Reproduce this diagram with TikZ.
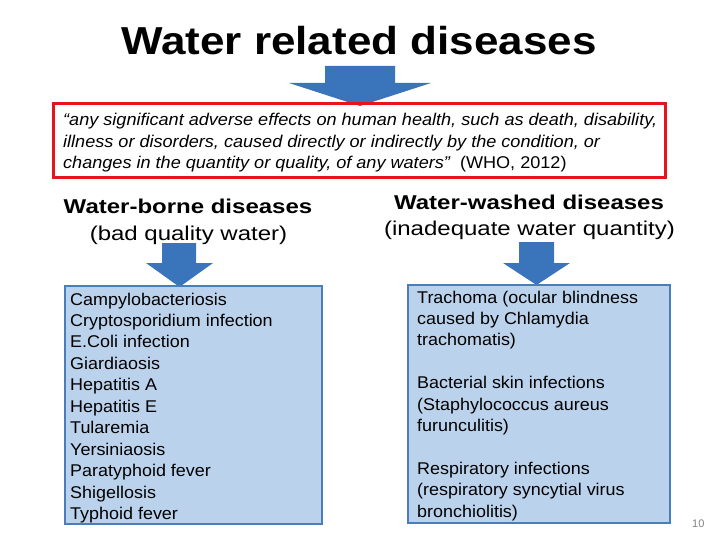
\documentclass[tikz,border=0pt]{standalone}
\usepackage{graphicx}
\usepackage{fontspec}
\setmainfont{Liberation Sans}
\definecolor{arrowblue}{HTML}{3A75BB}
\definecolor{boxfill}{HTML}{BBD2EC}
\definecolor{boxdraw}{HTML}{4A7EBB}
\definecolor{quotered}{HTML}{E8141B}
\newcommand\hsc[2]{\scalebox{#1}[1]{#2}}
\begin{document}
\begin{tikzpicture}[x=1pt,y=-1pt,
  txt/.style={inner sep=0pt,anchor=base west},
  ctr/.style={inner sep=0pt,anchor=base},
  listbox/.style={fill=boxfill,draw=boxdraw,line width=1.5pt},
  blockarrow/.style={fill=arrowblue,draw=none},
  qfont/.style={font=\fontsize{17}{20}\selectfont},
  hfont/.style={font=\fontsize{20}{24}\selectfont},
  lfont/.style={font=\fontsize{17}{21}\selectfont}]
\useasboundingbox (0,0) rectangle (720,540);
% title
\node[ctr,font=\fontsize{39}{46}\selectfont\bfseries] (title) at (359,54.5) {\hsc{1.128}{Water related diseases}};
% big arrow
\fill[blockarrow] (325,66) -- (395,66) -- (395,83) -- (431,83) -- (360,106) -- (289,83) -- (325,83) -- cycle;
% red box
\draw[quotered,line width=3pt] (53,104) rectangle (665,178);
\node[txt,qfont] (q1) at (63,126) {\hsc{1.064}{\itshape “any significant adverse effects on human health, such as death, disability,}};
\node[txt,qfont] (q2) at (63,147.5) {\hsc{1.064}{\itshape illness or disorders, caused directly or indirectly by the condition, or}};
\node[txt,qfont] (q3) at (63,169) {\hsc{1.064}{\itshape changes in the quantity or quality, of any waters”\upshape\ \ (WHO, 2012)}};
% headings
\node[ctr,hfont] (h1) at (188,214) {\hsc{1.2}{\bfseries Water-borne diseases}};
\node[ctr,hfont] (h1b) at (188.5,240.5) {\hsc{1.2}{(bad quality water)}};
\node[ctr,hfont] (h2) at (529,210) {\hsc{1.2}{\bfseries Water-washed diseases}};
\node[ctr,hfont] (h2b) at (529.5,235.5) {\hsc{1.2}{(inadequate water quantity)}};
% small arrows
\fill[blockarrow] (162,243) -- (196,243) -- (196,263) -- (213,263) -- (179.5,287) -- (146,263) -- (162,263) -- cycle;
\fill[blockarrow] (519,242) -- (554,242) -- (554,263) -- (570,263) -- (536.5,285) -- (503,263) -- (519,263) -- cycle;
% boxes
\draw[listbox] (65,286) rectangle (322,524);
\draw[listbox] (408,285) rectangle (670,523);
\foreach \i/\t in {0/{Campylobacteriosis},1/{Cryptosporidium infection},2/{E.Coli infection},3/{Giardiaosis},4/{Hepatitis A},5/{Hepatitis E},6/{Tularemia},7/{Yersiniaosis},8/{Paratyphoid fever},9/{Shigellosis},10/{Typhoid fever}}
  \node[txt,lfont] (l\i) at (70,305+21.45*\i) {\hsc{1.056}{\t}};
\foreach \k/\t in {0/{Trachoma (ocular blindness},1/{caused by Chlamydia},2/{trachomatis)},4/{Bacterial skin infections},5/{(Staphylococcus aureus},6/{furunculitis)},8/{Respiratory infections},9/{(respiratory syncytial virus},10/{bronchiolitis)}}
  \node[txt,lfont] (r\k) at (417,303+21.4*\k) {\hsc{1.056}{\t}};
% page number
\node[txt,font=\fontsize{11}{13}\selectfont,text=gray] (pg) at (692,527) {10};
\end{tikzpicture}
\end{document}
